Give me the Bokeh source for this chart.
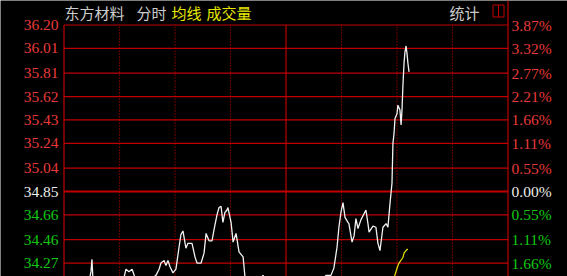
from bokeh.plotting import figure
from bokeh.models import Range1d, LabelSet, Label, ColumnDataSource
from bokeh.embed import file_html
from bokeh.resources import INLINE

# ---------------- data ----------------
stock_name = "东方材料"
prev_close = 34.85
price_ticks = [36.20, 36.01, 35.81, 35.62, 35.43, 35.24, 35.04, 34.85, 34.66, 34.46, 34.27]
price_labels = ["36.20", "36.01", "35.81", "35.62", "35.43", "35.24", "35.04",
                "34.85", "34.66", "34.46", "34.27"]
pct_labels = ["3.87%", "3.32%", "2.77%", "2.21%", "1.66%", "1.11%", "0.55%",
              "0.00%", "0.55%", "1.11%", "1.66%"]
quarter_marks = [30, 60, 90, 150, 180, 210]   # minutes into session
session_marks = [0, 120]                       # open, midday
session_end = 240

times = [0, 3.8, 9.2, 13.5, 14.6, 15.1, 15.7, 20, 28, 32.4, 33.5, 35.1, 36.8, 38.4,
         41.6, 45.4, 47, 49.7, 51.4, 52.4, 54.1, 55.1, 56.2, 57.3, 58.9, 60.5, 62.2,
         63.2, 64.3, 65.9, 67, 69.2, 70.8, 71.9, 74.1, 75.7, 76.8, 78.4, 80, 81.1,
         82.7, 83.8, 84.9, 85.9, 87, 88.1, 88.6, 90.3, 91.4, 93, 94.6, 96.8, 97.8,
         100, 102.7, 105.4, 107.6, 109.2, 114.6, 120,
         122.7, 128.1, 133.5, 138.9, 141.6, 144.3, 145.9, 147.6, 148.6, 149.7, 150.8,
         151.9, 153.5, 154, 155.7, 156.8, 157.8, 158.9, 160.5, 163.2, 164.3, 164.9,
         167, 168.6, 169.7, 170.8, 172.4, 174.1, 175.1, 176.2, 177.3, 177.8, 178.4,
         178.9, 180, 180.5, 181.6, 182.2, 182.7, 183.2, 183.8, 184.3, 184.9, 185.4,
         185.9, 186.5]
prices = [34.10, 34.05, 34.08, 34.12, 34.20, 34.30, 34.12, 34.05, 34.08, 34.15, 34.22,
          34.20, 34.22, 34.15, 34.10, 34.16, 34.14, 34.17, 34.22, 34.27, 34.29, 34.25,
          34.29, 34.24, 34.19, 34.22, 34.40, 34.50, 34.53, 34.39, 34.43, 34.43, 34.32,
          34.27, 34.27, 34.35, 34.51, 34.45, 34.45, 34.54, 34.66, 34.72, 34.73, 34.60,
          34.68, 34.70, 34.72, 34.60, 34.44, 34.51, 34.36, 34.32, 34.16, 34.12, 34.15,
          34.13, 34.17, 34.12, 34.10, 34.08,
          34.06, 34.05, 34.10, 34.12, 34.17, 34.17, 34.23, 34.40, 34.56, 34.68, 34.76,
          34.64, 34.60, 34.59, 34.44, 34.49, 34.63, 34.55, 34.62, 34.70, 34.59, 34.52,
          34.57, 34.56, 34.43, 34.37, 34.56, 34.59, 34.56, 34.75, 34.92, 35.24, 35.32,
          35.44, 35.48, 35.55, 35.51, 35.39, 35.51, 35.71, 35.89, 35.98, 36.03, 35.97,
          35.89, 35.82]

avg_times = [0, 30, 60, 90, 120, 150, 170, 176, 178.4, 180.5, 181.1, 183.2, 183.8,
             185.4, 185.9]
avg_prices = [34.02, 34.05, 34.08, 34.10, 34.08, 34.10, 34.12, 34.14, 34.15, 34.25,
              34.27, 34.315, 34.35, 34.38, 34.38]

# ---------------- layout ----------------
W, H = 567, 276
X0_PX, X1_PX = 63.5, 507.5          # pixel of session open / close
TOP_PX, MID_PX = 24.5, 191.0        # pixel of top tick / previous close
px_per_min = (X1_PX - X0_PX) / session_end
px_per_unit = (MID_PX - TOP_PX) / (price_ticks[0] - prev_close)

x_start = -X0_PX / px_per_min
x_end = session_end + (W - X1_PX) / px_per_min
y_end = price_ticks[0] + TOP_PX / px_per_unit
y_start = price_ticks[0] - (H - TOP_PX) / px_per_unit

GRID = "#c00000"
RED_TXT = "#e83a3a"
GREEN_TXT = "#12c812"
WHITE_TXT = "#ececec"
GRAY_TXT = "#cccccc"
YELLOW_TXT = "#e8e800"

p = figure(width=W, height=H, output_backend="svg", toolbar_location=None,
           x_range=Range1d(x_start, x_end), y_range=Range1d(y_start, y_end),
           x_axis_location=None, y_axis_location=None, min_border=0,
           background_fill_color="black", border_fill_color="black",
           outline_line_color=None)
p.grid.visible = False

# horizontal grid
for v in price_ticks:
    p.segment(x0=0, x1=session_end, y0=v, y1=v, line_color=GRID,
              line_width=2 if v == prev_close else 1.2)

# dotted quarter lines
p.segment(x0=quarter_marks, x1=quarter_marks, y0=y_start, y1=price_ticks[0],
          line_color=GRID, line_width=1.2, line_dash="1 2")
# open / midday solid lines
p.segment(x0=session_marks, x1=session_marks, y0=y_start, y1=price_ticks[0],
          line_color=GRID, line_width=1.2)
# right border reaching top
p.segment(x0=session_end, x1=session_end, y0=y_start, y1=y_end,
          line_color=GRID, line_width=1.2)

# average line and price line
p.line(avg_times, avg_prices, line_color="#e6e600", line_width=1.2)
p.line(times, prices, line_color="#f2f2f2", line_width=1.3)

# tick labels
colors = [RED_TXT if v > prev_close else (WHITE_TXT if v == prev_close else GREEN_TXT)
          for v in price_ticks]
src = ColumnDataSource(dict(y=price_ticks, t=price_labels, pct=pct_labels, c=colors))
p.add_layout(LabelSet(x=58, y="y", x_units="screen", text="t", source=src,
                      text_color="c", text_align="right", text_baseline="middle",
                      text_font="Liberation Sans", text_font_size="15.5px"))
p.add_layout(LabelSet(x=511, y="y", x_units="screen", text="pct", source=src,
                      text_color="c", text_align="left", text_baseline="middle",
                      text_font="Liberation Sans", text_font_size="15.5px"))

# header
def hdr(x, txt, col):
    p.add_layout(Label(x=x, y=H - 11.5, x_units="screen", y_units="screen", text=txt,
                       text_color=col, text_font="Noto Sans CJK SC",
                       text_font_size="15px", text_baseline="middle"))

hdr(64, stock_name, GRAY_TXT)
hdr(136, "分时", GRAY_TXT)
hdr(171, "均线", YELLOW_TXT)
hdr(206, "成交量", YELLOW_TXT)
hdr(449, "统计", GRAY_TXT)

# small icon at top-right
def to_x(px):
    return x_start + px / px_per_min

def to_y(py):
    return y_end - py / px_per_unit

p.quad(left=[to_x(492.5), to_x(498)], right=[to_x(498), to_x(503.5)],
       top=to_y(4.5), bottom=to_y(16.5), fill_color=None, line_color="#c00000",
       line_width=1)

open("out.html", "w").write(file_html(p, INLINE))
